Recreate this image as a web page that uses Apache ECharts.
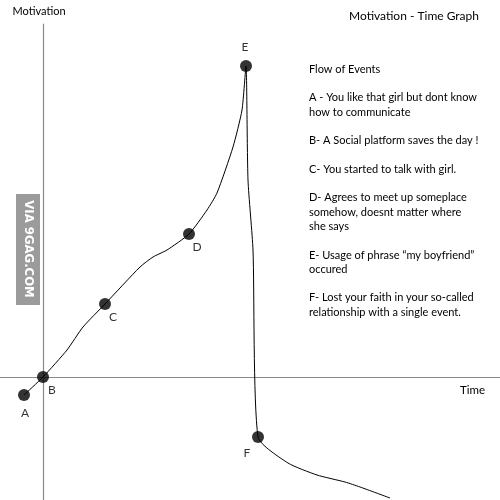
<!DOCTYPE html>
<html>
<head>
    <meta charset="utf-8">
    <title>Motivation - Time Graph</title>
    <script src="https://cdn.jsdelivr.net/npm/echarts@6/dist/echarts.min.js"></script>
</head>
<body style="margin:0;background:#fff;">
    <div id="main" style="width: 500px;height:500px;"></div>
    <script type="text/javascript">
        // hand-drawn curve (time, motivation)
        var curveTime = [-1.9, 0, 2.4, 4.0, 6.2, 9.7, 11.0, 12.4, 14.6, 16.4, 17.4, 19.0, 19.9, 20.3, 20.5, 21.0, 21.5, 24.5, 27.4, 30.2, 31.7, 34.7];
        var curveMotivation = [-1.8, 0, 2.7, 5.0, 7.3, 11.0, 12.0, 12.7, 14.3, 16.7, 18.4, 23.0, 26.7, 31.1, 19.7, 12.7, -6.0, -8.6, -9.8, -10.5, -11.0, -12.1];

        // the lettered events
        var eventNames = ['A', 'B', 'C', 'D', 'E', 'F'];
        var eventTime = [-1.9, 0, 6.2, 14.6, 20.3, 21.5];
        var eventMotivation = [-1.8, 0, 7.3, 14.3, 31.1, -6.0];

        var events = [
            'Flow of Events',
            'A - You like that girl but dont know\nhow to communicate',
            'B- A Social platform saves the day !',
            'C- You started to talk with girl.',
            'D- Agrees to meet up someplace\nsomehow, doesnt matter where\nshe says',
            'E- Usage of phrase \u201cmy boyfriend\u201d\noccured',
            'F- Lost your faith in your so-called\nrelationship with a single event.'
        ];

        // where each letter sits relative to its dot
        var labelOffsets = {A: [1, 18], B: [9, 13], C: [8, 13], D: [8, 13], E: [-1, -19], F: [-11, 16]};

        var font = 'Lato, "Open Sans", sans-serif';
        var myChart = echarts.init(document.getElementById('main'));

        var curve = curveTime.map(function (t, i) {
            return [t, curveMotivation[i]];
        });
        var dots = eventNames.map(function (n, i) {
            return {
                value: [eventTime[i], eventMotivation[i]],
                name: n,
                label: {offset: labelOffsets[n]}
            };
        });

        var option = {
            backgroundColor: '#fff',
            animation: false,
            title: [{
                text: 'Motivation - Time Graph',
                right: 16,
                top: 5,
                textStyle: {fontFamily: font, fontSize: 12, fontWeight: 'normal', color: '#000'}
            }, {
                text: events.join('\n\n'),
                left: 304,
                top: 57,
                textStyle: {fontFamily: font, fontSize: 11, fontWeight: 'normal', color: '#000', lineHeight: 14.3}
            }],
            grid: {left: 0, right: 0, top: 24, bottom: 0},
            xAxis: {
                type: 'value',
                min: -4.3,
                max: 45.7,
                name: 'Time',
                nameLocation: 'end',
                nameGap: -15,
                nameTextStyle: {fontFamily: font, fontSize: 11.5, color: '#000', align: 'right', verticalAlign: 'top', padding: [7, 0, 0, 0]},
                axisLine: {lineStyle: {color: '#8a8a8a', width: 1.2}},
                axisTick: {show: false},
                axisLabel: {show: false},
                splitLine: {show: false}
            },
            yAxis: {
                type: 'value',
                min: -12.3,
                max: 35.3,
                name: 'Motivation',
                nameLocation: 'end',
                nameGap: 7,
                nameTextStyle: {fontFamily: font, fontSize: 11, color: '#000', align: 'center', padding: [0, 8, 0, 0]},
                axisLine: {lineStyle: {color: '#8a8a8a', width: 1.2}},
                axisTick: {show: false},
                axisLabel: {show: false},
                splitLine: {show: false}
            },
            series: [{
                type: 'line',
                data: curve,
                symbol: 'none',
                smooth: 0.2,
                lineStyle: {color: '#000', width: 1}
            }, {
                type: 'scatter',
                data: dots,
                symbolSize: 12,
                itemStyle: {color: '#000'},
                label: {
                    show: true,
                    position: 'inside',
                    formatter: '{b}',
                    fontFamily: font,
                    fontSize: 12,
                    color: '#000'
                }
            }],
            graphic: [{
                type: 'group',
                left: 16,
                top: 194,
                children: [{
                    type: 'rect',
                    shape: {x: 0, y: 0, width: 24, height: 111},
                    style: {fill: '#9b9b9b'}
                }, {
                    type: 'text',
                    x: 12,
                    y: 55,
                    rotation: -Math.PI / 2,
                    style: {
                        text: 'VIA 9GAG.COM',
                        fill: '#fff',
                        font: 'bold 13px "DejaVu Sans Condensed", sans-serif',
                        align: 'center',
                        verticalAlign: 'middle'
                    }
                }]
            }]
        };

        myChart.setOption(option);
    </script>
</body>
</html>
